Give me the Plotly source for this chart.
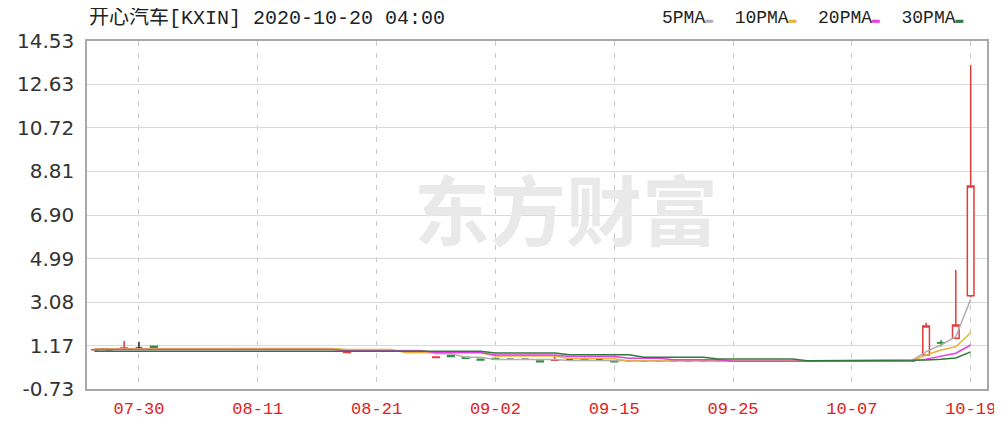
import plotly.graph_objects as go

# ---------------- data ----------------
dates = ["07-27", "07-28", "07-29", "07-30", "07-31",
         "08-03", "08-04", "08-05", "08-06", "08-07",
         "08-10", "08-11", "08-12", "08-13", "08-14",
         "08-17", "08-18", "08-19", "08-20", "08-21",
         "08-24", "08-25", "08-26", "08-27", "08-28",
         "08-31", "09-01", "09-02", "09-03", "09-04",
         "09-08", "09-09", "09-10", "09-11", "09-14",
         "09-15", "09-16", "09-17", "09-18", "09-21",
         "09-22", "09-23", "09-24", "09-25", "09-28",
         "09-29", "09-30", "10-01", "10-02", "10-05",
         "10-06", "10-07", "10-08", "10-09", "10-12",
         "10-13", "10-14", "10-15", "10-16", "10-19"]

opens = [0.99, 0.99, 1.06, 1.07, 1.14, 1.03, 1.03, 1.03, 1.03, 1.03,
         1.03, 1.03, 1.03, 1.03, 1.03, 1.03, 1.03, 0.87, 0.95, 0.95,
         0.95, 0.95, 0.95, 0.65, 0.74, 0.66, 0.58, 0.61, 0.58, 0.58,
         0.50, 0.53, 0.55, 0.55, 0.56, 0.50, 0.50, 0.50, 0.50, 0.50,
         0.50, 0.50, 0.50, 0.50, 0.50, 0.50, 0.50, 0.50, 0.50, 0.50,
         0.50, 0.50, 0.50, 0.50, 0.50, 0.50, 0.76, 1.30, 1.49, 3.36]
highs = [0.99, 0.99, 1.37, 1.33, 1.14, 1.03, 1.03, 1.03, 1.03, 1.03,
         1.03, 1.03, 1.03, 1.03, 1.03, 1.03, 1.03, 0.88, 0.95, 0.95,
         0.95, 0.95, 0.95, 0.70, 0.75, 0.67, 0.59, 0.61, 0.58, 0.58,
         0.50, 0.74, 0.55, 0.65, 0.56, 0.50, 0.50, 0.50, 0.50, 0.50,
         0.50, 0.50, 0.50, 0.50, 0.50, 0.50, 0.50, 0.50, 0.50, 0.50,
         0.50, 0.50, 0.50, 0.50, 0.50, 0.50, 2.18, 1.42, 4.49, 13.48]
lows = [0.99, 0.99, 1.06, 1.07, 1.03, 1.03, 1.03, 1.03, 1.03, 1.03,
        1.03, 1.03, 1.03, 1.03, 1.03, 1.03, 1.03, 0.87, 0.95, 0.95,
        0.95, 0.95, 0.95, 0.63, 0.68, 0.61, 0.53, 0.57, 0.58, 0.58,
        0.45, 0.52, 0.55, 0.55, 0.56, 0.44, 0.50, 0.50, 0.50, 0.50,
        0.50, 0.50, 0.50, 0.50, 0.50, 0.50, 0.50, 0.50, 0.50, 0.50,
        0.50, 0.50, 0.50, 0.50, 0.50, 0.50, 0.74, 1.13, 1.45, 3.30]
closes = [0.99, 0.99, 1.07, 1.07, 1.03, 1.03, 1.03, 1.03, 1.03, 1.03,
          1.03, 1.03, 1.03, 1.03, 1.03, 1.03, 1.03, 0.88, 0.95, 0.95,
          0.95, 0.95, 0.95, 0.67, 0.69, 0.62, 0.54, 0.58, 0.58, 0.58,
          0.46, 0.55, 0.55, 0.56, 0.56, 0.46, 0.50, 0.50, 0.50, 0.50,
          0.50, 0.50, 0.50, 0.50, 0.50, 0.50, 0.50, 0.50, 0.50, 0.50,
          0.50, 0.50, 0.50, 0.50, 0.50, 0.50, 2.03, 1.29, 2.08, 8.17]

ma5 = [1.00, 1.00, 1.04, 1.04, 1.04, 1.03, 1.03, 1.03, 1.03, 1.03,
       1.03, 1.03, 1.03, 1.03, 1.03, 1.03, 1.03, 0.96, 0.96, 0.96,
       0.96, 0.96, 0.96, 0.82, 0.82, 0.66, 0.66, 0.56, 0.56, 0.56,
       0.56, 0.56, 0.52, 0.52, 0.52, 0.52, 0.52, 0.50, 0.50, 0.50,
       0.50, 0.50, 0.50, 0.50, 0.50, 0.50, 0.50, 0.50, 0.50, 0.50,
       0.50, 0.50, 0.50, 0.50, 0.50, 0.50, 0.91, 1.20, 1.56, 3.20]
ma10 = [1.03, 1.03, 1.03, 1.03, 1.03, 1.05, 1.05, 1.05, 1.05, 1.05,
        1.05, 1.05, 1.05, 1.05, 1.05, 1.05, 1.05, 1.00, 1.00, 1.00,
        1.00, 0.86, 0.86, 0.86, 0.86, 0.86, 0.86, 0.72, 0.72, 0.72,
        0.72, 0.72, 0.60, 0.60, 0.60, 0.60, 0.50, 0.50, 0.50, 0.50,
        0.50, 0.50, 0.50, 0.47, 0.47, 0.47, 0.47, 0.47, 0.49, 0.49,
        0.49, 0.49, 0.49, 0.49, 0.49, 0.49, 0.76, 0.98, 1.12, 1.74]
ma20 = [1.00, 1.00, 1.00, 1.00, 1.00, 1.00, 1.00, 1.00, 1.00, 1.00,
        1.00, 1.00, 1.00, 1.00, 1.00, 1.00, 1.00, 0.95, 0.95, 0.95,
        0.95, 0.95, 0.95, 0.87, 0.87, 0.87, 0.87, 0.76, 0.76, 0.76,
        0.76, 0.76, 0.69, 0.69, 0.69, 0.69, 0.62, 0.62, 0.62, 0.55,
        0.55, 0.55, 0.55, 0.49, 0.49, 0.49, 0.49, 0.49, 0.50, 0.50,
        0.50, 0.50, 0.50, 0.50, 0.50, 0.50, 0.58, 0.72, 0.84, 1.20]
ma30 = [0.93, 0.93, 0.93, 0.93, 0.93, 0.93, 0.93, 0.93, 0.93, 0.93,
        0.93, 0.93, 0.93, 0.93, 0.93, 0.93, 0.93, 0.93, 0.93, 0.93,
        0.93, 0.93, 0.93, 0.93, 0.93, 0.93, 0.93, 0.85, 0.85, 0.85,
        0.85, 0.85, 0.77, 0.77, 0.77, 0.77, 0.77, 0.66, 0.66, 0.66,
        0.66, 0.66, 0.59, 0.59, 0.59, 0.59, 0.59, 0.59, 0.51, 0.51,
        0.51, 0.51, 0.51, 0.51, 0.51, 0.51, 0.54, 0.57, 0.63, 0.90]

tick_dates = ["07-30", "08-11", "08-21", "09-02", "09-15", "09-25", "10-07", "10-19"]
y_ticks = [14.53, 12.63, 10.72, 8.81, 6.90, 4.99, 3.08, 1.17, -0.73]
y_ticktext = ["14.53", "12.63", "10.72", "8.81", "6.90", "4.99", "3.08", "1.17", "-0.73"]

title_text = "开心汽车[KXIN] 2020-10-20 04:00"
ma_names = ["5PMA", "10PMA", "20PMA", "30PMA"]

# ---------------- styles ----------------
RED = "#e23c3c"
GREEN = "#2f8f3a"
BLACK = "#222222"
MA_COLORS = ["#b0b0b0", "#e8b23a", "#e23ee2", "#2f7a3a"]

# split candles into up / down / flat groups
groups = {"up": [], "down": [], "flat": []}
for i in range(len(dates)):
    o, c = opens[i], closes[i]
    prev = closes[i - 1] if i > 0 else None
    if c > o or (c == o and (prev is None or c > prev)):
        groups["up"].append(i)
    elif c < o or (c == o and c < prev):
        groups["down"].append(i)
    else:
        groups["flat"].append(i)

fig = go.Figure()

styles = {
    "up": dict(line=RED, fill="white"),
    "down": dict(line=GREEN, fill=GREEN),
    "flat": dict(line=BLACK, fill=BLACK),
}
for key in ["flat", "down", "up"]:
    idx = groups[key]
    st = styles[key]
    fig.add_trace(go.Candlestick(
        x=[dates[i] for i in idx],
        open=[opens[i] for i in idx],
        high=[highs[i] for i in idx],
        low=[lows[i] for i in idx],
        close=[closes[i] for i in idx],
        increasing=dict(line=dict(color=st["line"], width=1.5), fillcolor=st["fill"]),
        decreasing=dict(line=dict(color=st["line"], width=1.5), fillcolor=st["fill"]),
        whiskerwidth=0,
        showlegend=False,
        hoverinfo="skip",
    ))

for name, vals, col in zip(ma_names, [ma5, ma10, ma20, ma30], MA_COLORS):
    fig.add_trace(go.Scatter(
        x=dates, y=vals, mode="lines", name=name,
        line=dict(color=col, width=1.5),
        showlegend=False, hoverinfo="skip",
    ))

# The page body has an 8px default margin: the figure starts at (8, 8).
OFF = 8
PAGE_W, PAGE_H = 1002, 428
W, H = PAGE_W - OFF, PAGE_H - 2 * OFF
PLOT_L, PLOT_R, PLOT_T, PLOT_B = 87, 987, 41, 389   # page pixels
L = PLOT_L - OFF
T = PLOT_T - OFF
R = (OFF + W) - PLOT_R
B = (OFF + H) - PLOT_B
pw, ph = PLOT_R - PLOT_L, PLOT_B - PLOT_T


def px_x(p):
    return (p - PLOT_L) / pw


def px_y(p):
    return (PLOT_B - p) / ph


legend_html = "&nbsp;&nbsp;".join(
    f'{n}<span style="color:{c};font-size:13px">▬</span>'
    for n, c in zip(ma_names, MA_COLORS)
)

fig.update_layout(
    width=W, height=H,
    margin=dict(l=L, r=R, t=T, b=B, autoexpand=False),
    paper_bgcolor="white", plot_bgcolor="white",
    boxgap=0.36,
    showlegend=False,
    xaxis=dict(
        type="category", categoryorder="array", categoryarray=dates,
        range=[-0.5, 60.1], automargin=False,
        tickmode="array", tickvals=tick_dates, ticktext=tick_dates,
        tickfont=dict(family="Liberation Mono", size=17, color="#e02020"),
        ticks="", ticklabelstandoff=3,
        showgrid=True, gridcolor="#c8c8c8", griddash="5px,7px", gridwidth=1,
        showline=True, linecolor="#a8a8a8", linewidth=1.5, mirror=True,
        rangeslider=dict(visible=False), zeroline=False,
    ),
    yaxis=dict(
        range=[-0.73, 14.53], automargin=False,
        tickmode="array", tickvals=y_ticks, ticktext=y_ticktext,
        tickfont=dict(family="DejaVu Sans", size=20, color="#333333"),
        ticks="", ticklabelstandoff=7,
        showgrid=True, gridcolor="#dadada", gridwidth=1,
        showline=True, linecolor="#a8a8a8", linewidth=1.5, mirror=True,
        zeroline=False,
    ),
    annotations=[
        dict(text="东方财富", xref="paper", yref="paper",
             x=px_x(566), y=px_y(207), xanchor="center", yanchor="middle",
             showarrow=False,
             font=dict(family="Noto Sans CJK SC", size=76, color="#e9e9e9", weight="bold")),
        dict(text=title_text, xref="paper", yref="paper",
             x=px_x(87), y=px_y(18), xanchor="left", yanchor="middle",
             showarrow=False,
             font=dict(family="Liberation Mono, Noto Sans CJK SC", size=20, color="#222222")),
        dict(text=legend_html, xref="paper", yref="paper",
             x=px_x(966), y=px_y(18), xanchor="right", yanchor="middle",
             showarrow=False,
             font=dict(family="Liberation Mono", size=18, color="#222222")),
    ],
)

fig.write_html("out.html")
